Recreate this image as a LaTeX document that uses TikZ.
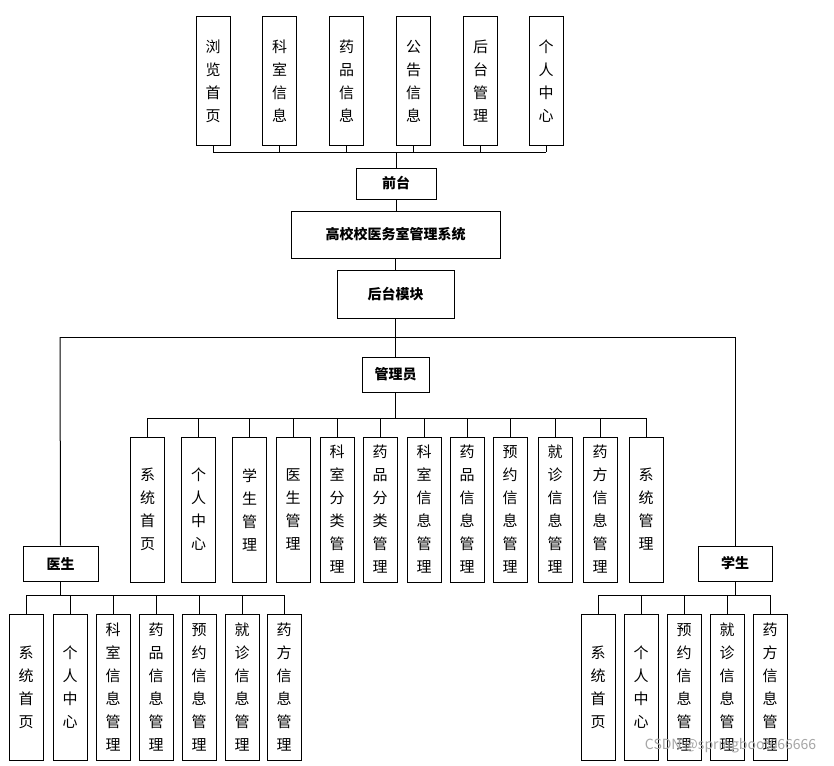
\documentclass[tikz,border=0pt]{standalone}
\usepackage{fontspec}
\setmainfont{Noto Sans CJK SC}
\begin{document}
\begin{tikzpicture}[x=1pt,y=-1pt,line width=1pt,
  vbox/.style={draw,minimum width=34pt,align=center,inner sep=0pt,font=\fontsize{15}{23}\selectfont},
  hbox/.style={draw,align=center,inner sep=0pt,font=\fontsize{14}{16}\selectfont\bfseries}]
\useasboundingbox (0,0) rectangle (834,765);
\fill[white] (0,0) rectangle (834,765);
% top
\foreach \n/\x/\t in {1/213/浏\\览\\首\\页,2/279.5/科\\室\\信\\息,3/346.5/药\\品\\信\\息,4/413.5/公\\告\\信\\息,5/480.5/后\\台\\管\\理,6/546/个\\人\\中\\心}{
  \node[vbox,minimum height=128pt] (t\n) at (\x,81) {\t};
  \draw (t\n.south) -- (\x,152);}
\draw (213,152) -- (546,152);
\node[hbox,minimum width=80pt,minimum height=31pt] (qt) at (396,183.5) {前台};
\draw (396,152) -- (qt.north);
\node[hbox,minimum width=209pt,minimum height=47pt] (sys) at (395.5,234.5) {高校校医务室管理系统};
\draw (qt.south) -- (qt.south |- sys.north);
\node[hbox,minimum width=117pt,minimum height=48pt] (ht) at (395.5,294) {后台模块};
\draw (sys.south -| ht.north) -- (ht.north);
\coordinate (hj) at (395.5,337);
\draw (ht.south) -- (hj);
\draw (60,337) -- (735,337);
\node[hbox,minimum width=67pt,minimum height=35pt] (adm) at (395.5,374.5) {管理员};
\node[hbox,minimum width=75pt,minimum height=35pt] (doc) at (60.5,563.5) {医生};
\node[hbox,minimum width=74pt,minimum height=35pt] (stu) at (735,563.5) {学生};
\draw (hj) -- (adm.north);
\draw (60,337) -- (doc.north);
\draw (735,337) -- (stu.north);
% admin
\draw (adm.south) -- (395.5,418);
\draw (147.5,418) -- (646,418);
\foreach \n/\x/\t in {1/147.5/系\\统\\首\\页,2/198.5/个\\人\\中\\心,3/249.5/学\\生\\管\\理,4/293/医\\生\\管\\理,5/337/科\\室\\分\\类\\管\\理,6/380/药\\品\\分\\类\\管\\理,7/424/科\\室\\信\\息\\管\\理,8/467/药\\品\\信\\息\\管\\理,9/510/预\\约\\信\\息\\管\\理,10/555/就\\诊\\信\\息\\管\\理,11/600/药\\方\\信\\息\\管\\理,12/646/系\\统\\管\\理}{
  \node[vbox,minimum height=145pt] (a\n) at (\x,509.5) {\t};
  \draw (\x,418) -- (a\n.north);}
% doctor
\draw (doc.south) -- (60.5,595);
\draw (26,595) -- (284,595);
\foreach \n/\x/\t in {1/26/系\\统\\首\\页,2/70/个\\人\\中\\心,3/113/科\\室\\信\\息\\管\\理,4/156/药\\品\\信\\息\\管\\理,5/199/预\\约\\信\\息\\管\\理,6/242/就\\诊\\信\\息\\管\\理,7/284/药\\方\\信\\息\\管\\理}{
  \node[vbox,minimum height=146pt] (d\n) at (\x,687) {\t};
  \draw (\x,595) -- (d\n.north);}
% student
\draw (stu.south) -- (735,595);
\draw (598,595) -- (770,595);
\foreach \n/\x/\t in {1/598/系\\统\\首\\页,2/641/个\\人\\中\\心,3/684/预\\约\\信\\息\\管\\理,4/727/就\\诊\\信\\息\\管\\理,5/770/药\\方\\信\\息\\管\\理}{
  \node[vbox,minimum height=146pt] (s\n) at (\x,687) {\t};
  \draw (\x,595) -- (s\n.north);}
\node[text=gray!70,font=\fontsize{14}{16}\selectfont,anchor=east] (wm) at (820,746) {CSDN @springboot666666};
\end{tikzpicture}
\end{document}
